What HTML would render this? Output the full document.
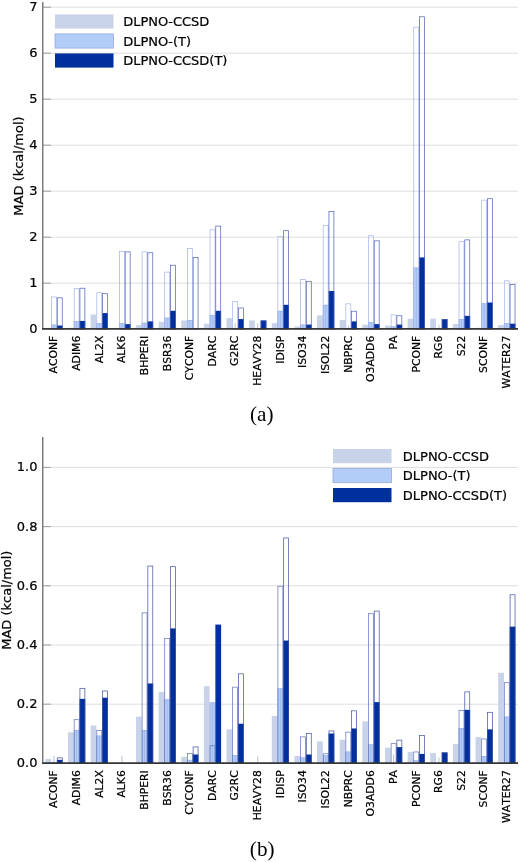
<!DOCTYPE html>
<html lang="en">
<head>
<meta charset="utf-8">
<title>DLPNO MAD charts</title>
<style>
html,body{margin:0;padding:0;background:#fff;}
body{width:520px;height:862px;overflow:hidden;font-family:"DejaVu Sans","Liberation Sans",sans-serif;}
svg{display:block;}
svg text{stroke:#000;stroke-width:0.22px;font-kerning:none;}
svg text.cap{stroke:none;}
</style>
</head>
<body>
<svg width="520" height="862" viewBox="0 0 520 862" font-family="'DejaVu Sans', 'Liberation Sans', sans-serif" fill="#000" stroke="none">
<rect width="520" height="862" fill="#fff"/>
<g id="chart-a">
<line x1="43" y1="283.2" x2="518" y2="283.2" stroke="#dedede" stroke-width="1"/>
<line x1="43" y1="283.2" x2="51" y2="283.2" stroke="#a0a0a0" stroke-width="1"/>
<line x1="43" y1="237.2" x2="518" y2="237.2" stroke="#dedede" stroke-width="1"/>
<line x1="43" y1="237.2" x2="51" y2="237.2" stroke="#a0a0a0" stroke-width="1"/>
<line x1="43" y1="191.2" x2="518" y2="191.2" stroke="#dedede" stroke-width="1"/>
<line x1="43" y1="191.2" x2="51" y2="191.2" stroke="#a0a0a0" stroke-width="1"/>
<line x1="43" y1="145.2" x2="518" y2="145.2" stroke="#dedede" stroke-width="1"/>
<line x1="43" y1="145.2" x2="51" y2="145.2" stroke="#a0a0a0" stroke-width="1"/>
<line x1="43" y1="99.2" x2="518" y2="99.2" stroke="#dedede" stroke-width="1"/>
<line x1="43" y1="99.2" x2="51" y2="99.2" stroke="#a0a0a0" stroke-width="1"/>
<line x1="43" y1="53.2" x2="518" y2="53.2" stroke="#dedede" stroke-width="1"/>
<line x1="43" y1="53.2" x2="51" y2="53.2" stroke="#a0a0a0" stroke-width="1"/>
<line x1="43" y1="7.2" x2="518" y2="7.2" stroke="#dedede" stroke-width="1"/>
<line x1="43" y1="7.2" x2="51" y2="7.2" stroke="#a0a0a0" stroke-width="1"/>
<rect x="55" y="14.4" width="58.5" height="14.2" fill="#c8d3e9"/>
<text x="123.2" y="26.2" font-size="13">DLPNO-CCSD</text>
<rect x="55" y="33.9" width="58.5" height="14.2" fill="#b3cdf9" stroke="#8ea2d4" stroke-width="0.7"/>
<text x="123.2" y="45.7" font-size="13">DLPNO-(T)</text>
<rect x="55" y="53.4" width="58.5" height="14.2" fill="#00309b"/>
<text x="123.2" y="65.2" font-size="13">DLPNO-CCSD(T)</text>
<rect x="45.38" y="327.82" width="5.75" height="1.38" fill="#c8d3e9"/>
<rect x="51.42" y="324.9" width="5.15" height="4.6" fill="#b3cdf9" stroke="#8aa6e3" stroke-width="0.6"/>
<rect x="53.6" y="324.6" width="0.8" height="4.6" fill="#9fb6e6"/>
<rect x="56.88" y="325.52" width="5.75" height="3.68" fill="#00309b"/>
<rect x="51.52" y="296.99" width="4.95" height="32.21" fill="none" stroke="#a3b2e8" stroke-width="0.7"/>
<rect x="57.27" y="297.81" width="4.95" height="31.39" fill="none" stroke="#4d5eb4" stroke-width="0.7"/>
<rect x="68.02" y="327.82" width="5.75" height="1.38" fill="#c8d3e9"/>
<rect x="74.06" y="321.68" width="5.15" height="7.82" fill="#b3cdf9" stroke="#8aa6e3" stroke-width="0.6"/>
<rect x="76.24" y="321.38" width="0.8" height="7.82" fill="#9fb6e6"/>
<rect x="79.52" y="320.92" width="5.75" height="8.28" fill="#00309b"/>
<rect x="74.17" y="288.66" width="4.95" height="40.54" fill="none" stroke="#a3b2e8" stroke-width="0.7"/>
<rect x="79.92" y="288.2" width="4.95" height="41" fill="none" stroke="#4d5eb4" stroke-width="0.7"/>
<rect x="90.66" y="314.48" width="5.75" height="14.72" fill="#c8d3e9"/>
<rect x="96.7" y="323.52" width="5.15" height="5.98" fill="#b3cdf9" stroke="#8aa6e3" stroke-width="0.6"/>
<rect x="98.88" y="323.22" width="0.8" height="5.98" fill="#9fb6e6"/>
<rect x="102.16" y="313.1" width="5.75" height="16.1" fill="#00309b"/>
<rect x="96.81" y="292.8" width="4.95" height="36.4" fill="none" stroke="#a3b2e8" stroke-width="0.7"/>
<rect x="102.56" y="293.72" width="4.95" height="35.48" fill="none" stroke="#4d5eb4" stroke-width="0.7"/>
<rect x="113.3" y="328.74" width="5.75" height="0.46" fill="#c8d3e9"/>
<rect x="119.34" y="323.52" width="5.15" height="5.98" fill="#b3cdf9" stroke="#8aa6e3" stroke-width="0.6"/>
<rect x="121.52" y="323.22" width="0.8" height="5.98" fill="#9fb6e6"/>
<rect x="124.8" y="324.14" width="5.75" height="5.06" fill="#00309b"/>
<rect x="119.45" y="251.4" width="4.95" height="77.8" fill="none" stroke="#a3b2e8" stroke-width="0.7"/>
<rect x="125.2" y="251.86" width="4.95" height="77.34" fill="none" stroke="#4d5eb4" stroke-width="0.7"/>
<rect x="135.94" y="325.06" width="5.75" height="4.14" fill="#c8d3e9"/>
<rect x="141.99" y="323.06" width="5.15" height="6.44" fill="#b3cdf9" stroke="#8aa6e3" stroke-width="0.6"/>
<rect x="144.16" y="322.76" width="0.8" height="6.44" fill="#9fb6e6"/>
<rect x="147.44" y="321.38" width="5.75" height="7.82" fill="#00309b"/>
<rect x="142.09" y="251.86" width="4.95" height="77.34" fill="none" stroke="#a3b2e8" stroke-width="0.7"/>
<rect x="147.84" y="252.78" width="4.95" height="76.42" fill="none" stroke="#4d5eb4" stroke-width="0.7"/>
<rect x="158.57" y="321.84" width="5.75" height="7.36" fill="#c8d3e9"/>
<rect x="164.62" y="318" width="5.15" height="11.5" fill="#b3cdf9" stroke="#8aa6e3" stroke-width="0.6"/>
<rect x="166.8" y="317.7" width="0.8" height="11.5" fill="#9fb6e6"/>
<rect x="170.07" y="310.8" width="5.75" height="18.4" fill="#00309b"/>
<rect x="164.72" y="272.1" width="4.95" height="57.1" fill="none" stroke="#a3b2e8" stroke-width="0.7"/>
<rect x="170.47" y="265.2" width="4.95" height="64" fill="none" stroke="#4d5eb4" stroke-width="0.7"/>
<rect x="181.22" y="320.46" width="5.75" height="8.74" fill="#c8d3e9"/>
<rect x="187.27" y="320.3" width="5.15" height="9.2" fill="#b3cdf9" stroke="#8aa6e3" stroke-width="0.6"/>
<rect x="189.44" y="320" width="0.8" height="9.2" fill="#9fb6e6"/>
<rect x="187.37" y="248.64" width="4.95" height="80.56" fill="none" stroke="#a3b2e8" stroke-width="0.7"/>
<rect x="193.12" y="257.38" width="4.95" height="71.82" fill="none" stroke="#4d5eb4" stroke-width="0.7"/>
<rect x="203.86" y="323.68" width="5.75" height="5.52" fill="#c8d3e9"/>
<rect x="209.91" y="315.24" width="5.15" height="14.26" fill="#b3cdf9" stroke="#8aa6e3" stroke-width="0.6"/>
<rect x="212.08" y="314.94" width="0.8" height="14.26" fill="#9fb6e6"/>
<rect x="215.36" y="310.8" width="5.75" height="18.4" fill="#00309b"/>
<rect x="210.01" y="229.78" width="4.95" height="99.42" fill="none" stroke="#a3b2e8" stroke-width="0.7"/>
<rect x="215.76" y="226.1" width="4.95" height="103.1" fill="none" stroke="#4d5eb4" stroke-width="0.7"/>
<rect x="226.5" y="318.16" width="5.75" height="11.04" fill="#c8d3e9"/>
<rect x="234.62" y="323.22" width="1" height="5.98" fill="#b9c0d2"/>
<rect x="238" y="319.08" width="5.75" height="10.12" fill="#00309b"/>
<rect x="232.65" y="301.54" width="4.95" height="27.66" fill="none" stroke="#a3b2e8" stroke-width="0.7"/>
<rect x="238.4" y="307.98" width="4.95" height="21.22" fill="none" stroke="#4d5eb4" stroke-width="0.7"/>
<rect x="249.13" y="320.46" width="5.75" height="8.74" fill="#c8d3e9"/>
<rect x="257.26" y="323.22" width="1" height="5.98" fill="#b9c0d2"/>
<rect x="260.63" y="320.46" width="5.75" height="8.74" fill="#00309b"/>
<rect x="261.03" y="320.86" width="4.95" height="8.34" fill="none" stroke="#4d5eb4" stroke-width="0.7"/>
<rect x="271.77" y="323.22" width="5.75" height="5.98" fill="#c8d3e9"/>
<rect x="277.82" y="311.1" width="5.15" height="18.4" fill="#b3cdf9" stroke="#8aa6e3" stroke-width="0.6"/>
<rect x="280" y="310.8" width="0.8" height="18.4" fill="#9fb6e6"/>
<rect x="283.27" y="304.82" width="5.75" height="24.38" fill="#00309b"/>
<rect x="277.92" y="236.68" width="4.95" height="92.52" fill="none" stroke="#a3b2e8" stroke-width="0.7"/>
<rect x="283.67" y="230.7" width="4.95" height="98.5" fill="none" stroke="#4d5eb4" stroke-width="0.7"/>
<rect x="294.42" y="326.44" width="5.75" height="2.76" fill="#c8d3e9"/>
<rect x="300.47" y="324.9" width="5.15" height="4.6" fill="#b3cdf9" stroke="#8aa6e3" stroke-width="0.6"/>
<rect x="302.64" y="324.6" width="0.8" height="4.6" fill="#9fb6e6"/>
<rect x="305.92" y="324.6" width="5.75" height="4.6" fill="#00309b"/>
<rect x="300.56" y="279.46" width="4.95" height="49.74" fill="none" stroke="#a3b2e8" stroke-width="0.7"/>
<rect x="306.31" y="281.3" width="4.95" height="47.9" fill="none" stroke="#4d5eb4" stroke-width="0.7"/>
<rect x="317.06" y="315.4" width="5.75" height="13.8" fill="#c8d3e9"/>
<rect x="323.11" y="305.12" width="5.15" height="24.38" fill="#b3cdf9" stroke="#8aa6e3" stroke-width="0.6"/>
<rect x="325.28" y="304.82" width="0.8" height="24.38" fill="#9fb6e6"/>
<rect x="328.56" y="291.02" width="5.75" height="38.18" fill="#00309b"/>
<rect x="323.2" y="225.64" width="4.95" height="103.56" fill="none" stroke="#a3b2e8" stroke-width="0.7"/>
<rect x="328.95" y="211.38" width="4.95" height="117.82" fill="none" stroke="#4d5eb4" stroke-width="0.7"/>
<rect x="339.69" y="320" width="5.75" height="9.2" fill="#c8d3e9"/>
<rect x="347.82" y="325.52" width="1" height="3.68" fill="#b9c0d2"/>
<rect x="351.19" y="321.38" width="5.75" height="7.82" fill="#00309b"/>
<rect x="345.84" y="303.84" width="4.95" height="25.36" fill="none" stroke="#a3b2e8" stroke-width="0.7"/>
<rect x="351.59" y="311.2" width="4.95" height="18" fill="none" stroke="#4d5eb4" stroke-width="0.7"/>
<rect x="362.34" y="324.6" width="5.75" height="4.6" fill="#c8d3e9"/>
<rect x="368.39" y="322.6" width="5.15" height="6.9" fill="#b3cdf9" stroke="#8aa6e3" stroke-width="0.6"/>
<rect x="370.56" y="322.3" width="0.8" height="6.9" fill="#9fb6e6"/>
<rect x="373.84" y="324.14" width="5.75" height="5.06" fill="#00309b"/>
<rect x="368.49" y="235.76" width="4.95" height="93.44" fill="none" stroke="#a3b2e8" stroke-width="0.7"/>
<rect x="374.24" y="240.82" width="4.95" height="88.38" fill="none" stroke="#4d5eb4" stroke-width="0.7"/>
<rect x="384.98" y="325.52" width="5.75" height="3.68" fill="#c8d3e9"/>
<rect x="391.03" y="326.74" width="5.15" height="2.76" fill="#b3cdf9" stroke="#8aa6e3" stroke-width="0.6"/>
<rect x="393.2" y="326.44" width="0.8" height="2.76" fill="#9fb6e6"/>
<rect x="396.48" y="324.6" width="5.75" height="4.6" fill="#00309b"/>
<rect x="391.12" y="314.88" width="4.95" height="14.32" fill="none" stroke="#a3b2e8" stroke-width="0.7"/>
<rect x="396.88" y="315.8" width="4.95" height="13.4" fill="none" stroke="#4d5eb4" stroke-width="0.7"/>
<rect x="407.62" y="318.62" width="5.75" height="10.58" fill="#c8d3e9"/>
<rect x="413.67" y="267.86" width="5.15" height="61.64" fill="#b3cdf9" stroke="#8aa6e3" stroke-width="0.6"/>
<rect x="415.84" y="267.56" width="0.8" height="61.64" fill="#9fb6e6"/>
<rect x="419.12" y="257.44" width="5.75" height="71.76" fill="#00309b"/>
<rect x="413.76" y="27.15" width="4.95" height="302.05" fill="none" stroke="#a3b2e8" stroke-width="0.7"/>
<rect x="419.51" y="16.8" width="4.95" height="312.4" fill="none" stroke="#4d5eb4" stroke-width="0.7"/>
<rect x="430.25" y="318.62" width="5.75" height="10.58" fill="#c8d3e9"/>
<rect x="438.38" y="324.6" width="1" height="4.6" fill="#b9c0d2"/>
<rect x="441.75" y="319.08" width="5.75" height="10.12" fill="#00309b"/>
<rect x="442.15" y="319.48" width="4.95" height="9.72" fill="none" stroke="#4d5eb4" stroke-width="0.7"/>
<rect x="452.89" y="324.14" width="5.75" height="5.06" fill="#c8d3e9"/>
<rect x="458.94" y="319.38" width="5.15" height="10.12" fill="#b3cdf9" stroke="#8aa6e3" stroke-width="0.6"/>
<rect x="461.12" y="319.08" width="0.8" height="10.12" fill="#9fb6e6"/>
<rect x="464.39" y="315.86" width="5.75" height="13.34" fill="#00309b"/>
<rect x="459.04" y="241.74" width="4.95" height="87.46" fill="none" stroke="#a3b2e8" stroke-width="0.7"/>
<rect x="464.79" y="239.9" width="4.95" height="89.3" fill="none" stroke="#4d5eb4" stroke-width="0.7"/>
<rect x="475.54" y="327.82" width="5.75" height="1.38" fill="#c8d3e9"/>
<rect x="481.59" y="303.74" width="5.15" height="25.76" fill="#b3cdf9" stroke="#8aa6e3" stroke-width="0.6"/>
<rect x="483.76" y="303.44" width="0.8" height="25.76" fill="#9fb6e6"/>
<rect x="487.04" y="302.52" width="5.75" height="26.68" fill="#00309b"/>
<rect x="481.69" y="200.11" width="4.95" height="129.09" fill="none" stroke="#a3b2e8" stroke-width="0.7"/>
<rect x="487.44" y="198.73" width="4.95" height="130.47" fill="none" stroke="#4d5eb4" stroke-width="0.7"/>
<rect x="498.18" y="325.06" width="5.75" height="4.14" fill="#c8d3e9"/>
<rect x="504.23" y="323.52" width="5.15" height="5.98" fill="#b3cdf9" stroke="#8aa6e3" stroke-width="0.6"/>
<rect x="506.4" y="323.22" width="0.8" height="5.98" fill="#9fb6e6"/>
<rect x="509.68" y="323.68" width="5.75" height="5.52" fill="#00309b"/>
<rect x="504.32" y="280.84" width="4.95" height="48.36" fill="none" stroke="#a3b2e8" stroke-width="0.7"/>
<rect x="510.07" y="284.52" width="4.95" height="44.68" fill="none" stroke="#4d5eb4" stroke-width="0.7"/>
<line x1="42.75" y1="2" x2="42.75" y2="329.7" stroke="#747474" stroke-width="1.4"/>
<line x1="42.1" y1="328.9" x2="518" y2="328.9" stroke="#363636" stroke-width="1.7"/>
<text x="37.5" y="333.1" text-anchor="end" font-size="13">0</text>
<text x="37.5" y="287.1" text-anchor="end" font-size="13">1</text>
<text x="37.5" y="241.1" text-anchor="end" font-size="13">2</text>
<text x="37.5" y="195.1" text-anchor="end" font-size="13">3</text>
<text x="37.5" y="149.1" text-anchor="end" font-size="13">4</text>
<text x="37.5" y="103.1" text-anchor="end" font-size="13">5</text>
<text x="37.5" y="57.1" text-anchor="end" font-size="13">6</text>
<text x="37.5" y="11.1" text-anchor="end" font-size="13">7</text>
<text transform="translate(22.9,166) rotate(-90)" text-anchor="middle" font-size="13">MAD (kcal/mol)</text>
<text transform="translate(57.3,335.7) rotate(-90)" text-anchor="end" font-size="10.8">ACONF</text>
<text transform="translate(79.94,335.7) rotate(-90)" text-anchor="end" font-size="10.8">ADIM6</text>
<text transform="translate(102.58,335.7) rotate(-90)" text-anchor="end" font-size="10.8">AL2X</text>
<text transform="translate(125.22,335.7) rotate(-90)" text-anchor="end" font-size="10.8">ALK6</text>
<text transform="translate(147.86,335.7) rotate(-90)" text-anchor="end" font-size="10.8">BHPERI</text>
<text transform="translate(170.5,335.7) rotate(-90)" text-anchor="end" font-size="10.8">BSR36</text>
<text transform="translate(193.14,335.7) rotate(-90)" text-anchor="end" font-size="10.8">CYCONF</text>
<text transform="translate(215.78,335.7) rotate(-90)" text-anchor="end" font-size="10.8">DARC</text>
<text transform="translate(238.42,335.7) rotate(-90)" text-anchor="end" font-size="10.8">G2RC</text>
<text transform="translate(261.06,335.7) rotate(-90)" text-anchor="end" font-size="10.8">HEAVY28</text>
<text transform="translate(283.7,335.7) rotate(-90)" text-anchor="end" font-size="10.8">IDISP</text>
<text transform="translate(306.34,335.7) rotate(-90)" text-anchor="end" font-size="10.8">ISO34</text>
<text transform="translate(328.98,335.7) rotate(-90)" text-anchor="end" font-size="10.8">ISOL22</text>
<text transform="translate(351.62,335.7) rotate(-90)" text-anchor="end" font-size="10.8">NBPRC</text>
<text transform="translate(374.26,335.7) rotate(-90)" text-anchor="end" font-size="10.8">O3ADD6</text>
<text transform="translate(396.9,335.7) rotate(-90)" text-anchor="end" font-size="10.8">PA</text>
<text transform="translate(419.54,335.7) rotate(-90)" text-anchor="end" font-size="10.8">PCONF</text>
<text transform="translate(442.18,335.7) rotate(-90)" text-anchor="end" font-size="10.8">RG6</text>
<text transform="translate(464.82,335.7) rotate(-90)" text-anchor="end" font-size="10.8">S22</text>
<text transform="translate(487.46,335.7) rotate(-90)" text-anchor="end" font-size="10.8">SCONF</text>
<text transform="translate(510.1,335.7) rotate(-90)" text-anchor="end" font-size="10.8">WATER27</text>
<text class="cap" x="261.8" y="421" text-anchor="middle" font-family="'Liberation Serif', serif" font-size="21.2">(a)</text>
</g>
<g id="chart-b">
<line x1="43" y1="704.2" x2="518" y2="704.2" stroke="#dedede" stroke-width="1"/>
<line x1="43" y1="704.2" x2="51" y2="704.2" stroke="#a0a0a0" stroke-width="1"/>
<line x1="43" y1="645" x2="518" y2="645" stroke="#dedede" stroke-width="1"/>
<line x1="43" y1="645" x2="51" y2="645" stroke="#a0a0a0" stroke-width="1"/>
<line x1="43" y1="585.8" x2="518" y2="585.8" stroke="#dedede" stroke-width="1"/>
<line x1="43" y1="585.8" x2="51" y2="585.8" stroke="#a0a0a0" stroke-width="1"/>
<line x1="43" y1="526.6" x2="518" y2="526.6" stroke="#dedede" stroke-width="1"/>
<line x1="43" y1="526.6" x2="51" y2="526.6" stroke="#a0a0a0" stroke-width="1"/>
<line x1="43" y1="467.4" x2="518" y2="467.4" stroke="#dedede" stroke-width="1"/>
<line x1="43" y1="467.4" x2="51" y2="467.4" stroke="#a0a0a0" stroke-width="1"/>
<rect x="333" y="449" width="58.5" height="14.2" fill="#c8d3e9"/>
<text x="402.8" y="460.8" font-size="13">DLPNO-CCSD</text>
<rect x="333" y="468.5" width="58.5" height="14.2" fill="#b3cdf9" stroke="#8ea2d4" stroke-width="0.7"/>
<text x="402.8" y="480.3" font-size="13">DLPNO-(T)</text>
<rect x="333" y="488" width="58.5" height="14.2" fill="#00309b"/>
<text x="402.8" y="499.8" font-size="13">DLPNO-CCSD(T)</text>
<rect x="45.38" y="758.96" width="5.75" height="4.44" fill="#c8d3e9"/>
<rect x="51.42" y="762.22" width="5.15" height="1.48" fill="#b3cdf9" stroke="#8aa6e3" stroke-width="0.6"/>
<rect x="53.6" y="761.92" width="0.8" height="1.48" fill="#9fb6e6"/>
<rect x="56.88" y="759.85" width="5.75" height="3.55" fill="#00309b"/>
<rect x="53.5" y="756" width="1" height="7.4" fill="#b9c0d2"/>
<rect x="57.27" y="757.88" width="4.95" height="5.52" fill="none" stroke="#3f4f9f" stroke-width="0.7"/>
<rect x="68.02" y="732.32" width="5.75" height="31.08" fill="#c8d3e9"/>
<rect x="74.06" y="730.25" width="5.15" height="33.45" fill="#b3cdf9" stroke="#8aa6e3" stroke-width="0.6"/>
<rect x="76.24" y="729.95" width="0.8" height="33.45" fill="#9fb6e6"/>
<rect x="79.52" y="698.87" width="5.75" height="64.53" fill="#00309b"/>
<rect x="74.17" y="719.7" width="4.95" height="43.7" fill="none" stroke="#5e70bc" stroke-width="0.7"/>
<rect x="79.92" y="688.32" width="4.95" height="75.08" fill="none" stroke="#3f4f9f" stroke-width="0.7"/>
<rect x="90.66" y="725.51" width="5.75" height="37.89" fill="#c8d3e9"/>
<rect x="96.7" y="735.88" width="5.15" height="27.82" fill="#b3cdf9" stroke="#8aa6e3" stroke-width="0.6"/>
<rect x="98.88" y="735.58" width="0.8" height="27.82" fill="#9fb6e6"/>
<rect x="102.16" y="697.69" width="5.75" height="65.71" fill="#00309b"/>
<rect x="96.81" y="730.35" width="4.95" height="33.05" fill="none" stroke="#5e70bc" stroke-width="0.7"/>
<rect x="102.56" y="690.98" width="4.95" height="72.42" fill="none" stroke="#3f4f9f" stroke-width="0.7"/>
<rect x="121.42" y="756" width="1" height="7.4" fill="#b9c0d2"/>
<rect x="135.94" y="716.63" width="5.75" height="46.77" fill="#c8d3e9"/>
<rect x="141.99" y="730.25" width="5.15" height="33.45" fill="#b3cdf9" stroke="#8aa6e3" stroke-width="0.6"/>
<rect x="144.16" y="729.95" width="0.8" height="33.45" fill="#9fb6e6"/>
<rect x="147.44" y="683.48" width="5.75" height="79.92" fill="#00309b"/>
<rect x="142.09" y="612.84" width="4.95" height="150.56" fill="none" stroke="#5e70bc" stroke-width="0.7"/>
<rect x="147.84" y="566.07" width="4.95" height="197.33" fill="none" stroke="#3f4f9f" stroke-width="0.7"/>
<rect x="158.57" y="692.06" width="5.75" height="71.34" fill="#c8d3e9"/>
<rect x="164.62" y="699.76" width="5.15" height="63.94" fill="#b3cdf9" stroke="#8aa6e3" stroke-width="0.6"/>
<rect x="166.8" y="699.46" width="0.8" height="63.94" fill="#9fb6e6"/>
<rect x="170.07" y="628.42" width="5.75" height="134.98" fill="#00309b"/>
<rect x="164.72" y="638.3" width="4.95" height="125.1" fill="none" stroke="#5e70bc" stroke-width="0.7"/>
<rect x="170.47" y="566.66" width="4.95" height="196.74" fill="none" stroke="#3f4f9f" stroke-width="0.7"/>
<rect x="181.22" y="756.89" width="5.75" height="6.51" fill="#c8d3e9"/>
<rect x="187.27" y="760.15" width="5.15" height="3.55" fill="#b3cdf9" stroke="#8aa6e3" stroke-width="0.6"/>
<rect x="189.44" y="759.85" width="0.8" height="3.55" fill="#9fb6e6"/>
<rect x="192.72" y="754.52" width="5.75" height="8.88" fill="#00309b"/>
<rect x="187.37" y="753.44" width="4.95" height="9.96" fill="none" stroke="#5e70bc" stroke-width="0.7"/>
<rect x="193.12" y="746.93" width="4.95" height="16.47" fill="none" stroke="#3f4f9f" stroke-width="0.7"/>
<rect x="203.86" y="686.14" width="5.75" height="77.26" fill="#c8d3e9"/>
<rect x="209.91" y="702.72" width="5.15" height="60.98" fill="#b3cdf9" stroke="#8aa6e3" stroke-width="0.6"/>
<rect x="212.08" y="702.42" width="0.8" height="60.98" fill="#9fb6e6"/>
<rect x="215.36" y="624.58" width="5.75" height="138.82" fill="#00309b"/>
<rect x="210.01" y="745.74" width="4.95" height="17.66" fill="none" stroke="#5e70bc" stroke-width="0.7"/>
<rect x="226.5" y="729.36" width="5.75" height="34.04" fill="#c8d3e9"/>
<rect x="232.55" y="755.41" width="5.15" height="8.29" fill="#b3cdf9" stroke="#8aa6e3" stroke-width="0.6"/>
<rect x="234.72" y="755.11" width="0.8" height="8.29" fill="#9fb6e6"/>
<rect x="238" y="723.74" width="5.75" height="39.66" fill="#00309b"/>
<rect x="232.65" y="687.14" width="4.95" height="76.26" fill="none" stroke="#5e70bc" stroke-width="0.7"/>
<rect x="238.4" y="673.82" width="4.95" height="89.58" fill="none" stroke="#3f4f9f" stroke-width="0.7"/>
<rect x="257.26" y="756" width="1" height="7.4" fill="#b9c0d2"/>
<rect x="271.77" y="716.04" width="5.75" height="47.36" fill="#c8d3e9"/>
<rect x="277.82" y="688.81" width="5.15" height="74.89" fill="#b3cdf9" stroke="#8aa6e3" stroke-width="0.6"/>
<rect x="280" y="688.51" width="0.8" height="74.89" fill="#9fb6e6"/>
<rect x="283.27" y="640.56" width="5.75" height="122.84" fill="#00309b"/>
<rect x="277.92" y="586.2" width="4.95" height="177.2" fill="none" stroke="#5e70bc" stroke-width="0.7"/>
<rect x="283.67" y="537.95" width="4.95" height="225.45" fill="none" stroke="#3f4f9f" stroke-width="0.7"/>
<rect x="294.42" y="756" width="5.75" height="7.4" fill="#c8d3e9"/>
<rect x="300.47" y="757.78" width="5.15" height="5.92" fill="#b3cdf9" stroke="#8aa6e3" stroke-width="0.6"/>
<rect x="302.64" y="757.48" width="0.8" height="5.92" fill="#9fb6e6"/>
<rect x="305.92" y="754.52" width="5.75" height="8.88" fill="#00309b"/>
<rect x="300.56" y="736.86" width="4.95" height="26.54" fill="none" stroke="#5e70bc" stroke-width="0.7"/>
<rect x="306.31" y="733.31" width="4.95" height="30.09" fill="none" stroke="#3f4f9f" stroke-width="0.7"/>
<rect x="317.06" y="741.5" width="5.75" height="21.9" fill="#c8d3e9"/>
<rect x="323.11" y="755.41" width="5.15" height="8.29" fill="#b3cdf9" stroke="#8aa6e3" stroke-width="0.6"/>
<rect x="325.28" y="755.11" width="0.8" height="8.29" fill="#9fb6e6"/>
<rect x="328.56" y="733.5" width="5.75" height="29.9" fill="#00309b"/>
<rect x="323.2" y="753.74" width="4.95" height="9.66" fill="none" stroke="#5e70bc" stroke-width="0.7"/>
<rect x="328.95" y="730.94" width="4.95" height="32.46" fill="none" stroke="#3f4f9f" stroke-width="0.7"/>
<rect x="339.69" y="739.72" width="5.75" height="23.68" fill="#c8d3e9"/>
<rect x="345.75" y="751.86" width="5.15" height="11.84" fill="#b3cdf9" stroke="#8aa6e3" stroke-width="0.6"/>
<rect x="347.92" y="751.56" width="0.8" height="11.84" fill="#9fb6e6"/>
<rect x="351.19" y="728.47" width="5.75" height="34.93" fill="#00309b"/>
<rect x="345.84" y="732.13" width="4.95" height="31.27" fill="none" stroke="#5e70bc" stroke-width="0.7"/>
<rect x="351.59" y="710.82" width="4.95" height="52.58" fill="none" stroke="#3f4f9f" stroke-width="0.7"/>
<rect x="362.34" y="721.37" width="5.75" height="42.03" fill="#c8d3e9"/>
<rect x="368.39" y="744.76" width="5.15" height="18.94" fill="#b3cdf9" stroke="#8aa6e3" stroke-width="0.6"/>
<rect x="370.56" y="744.46" width="0.8" height="18.94" fill="#9fb6e6"/>
<rect x="373.84" y="702.13" width="5.75" height="61.27" fill="#00309b"/>
<rect x="368.49" y="613.73" width="4.95" height="149.67" fill="none" stroke="#5e70bc" stroke-width="0.7"/>
<rect x="374.24" y="611.06" width="4.95" height="152.34" fill="none" stroke="#3f4f9f" stroke-width="0.7"/>
<rect x="384.98" y="747.71" width="5.75" height="15.69" fill="#c8d3e9"/>
<rect x="393.1" y="754.52" width="1" height="8.88" fill="#b9c0d2"/>
<rect x="396.48" y="747.12" width="5.75" height="16.28" fill="#00309b"/>
<rect x="391.12" y="743.67" width="4.95" height="19.73" fill="none" stroke="#5e70bc" stroke-width="0.7"/>
<rect x="396.88" y="740.12" width="4.95" height="23.28" fill="none" stroke="#3f4f9f" stroke-width="0.7"/>
<rect x="407.62" y="751.86" width="5.75" height="11.54" fill="#c8d3e9"/>
<rect x="413.67" y="760.74" width="5.15" height="2.96" fill="#b3cdf9" stroke="#8aa6e3" stroke-width="0.6"/>
<rect x="415.84" y="760.44" width="0.8" height="2.96" fill="#9fb6e6"/>
<rect x="419.12" y="753.93" width="5.75" height="9.47" fill="#00309b"/>
<rect x="413.76" y="751.96" width="4.95" height="11.44" fill="none" stroke="#5e70bc" stroke-width="0.7"/>
<rect x="419.51" y="735.38" width="4.95" height="28.02" fill="none" stroke="#3f4f9f" stroke-width="0.7"/>
<rect x="430.25" y="753.04" width="5.75" height="10.36" fill="#c8d3e9"/>
<rect x="438.38" y="757.48" width="1" height="5.92" fill="#b9c0d2"/>
<rect x="441.75" y="752.45" width="5.75" height="10.95" fill="#00309b"/>
<rect x="442.15" y="752.85" width="4.95" height="10.55" fill="none" stroke="#3f4f9f" stroke-width="0.7"/>
<rect x="452.89" y="743.86" width="5.75" height="19.54" fill="#c8d3e9"/>
<rect x="458.94" y="728.48" width="5.15" height="35.22" fill="#b3cdf9" stroke="#8aa6e3" stroke-width="0.6"/>
<rect x="461.12" y="728.18" width="0.8" height="35.22" fill="#9fb6e6"/>
<rect x="464.39" y="709.82" width="5.75" height="53.58" fill="#00309b"/>
<rect x="459.04" y="710.52" width="4.95" height="52.88" fill="none" stroke="#5e70bc" stroke-width="0.7"/>
<rect x="464.79" y="691.87" width="4.95" height="71.53" fill="none" stroke="#3f4f9f" stroke-width="0.7"/>
<rect x="475.54" y="737.06" width="5.75" height="26.34" fill="#c8d3e9"/>
<rect x="481.59" y="756.3" width="5.15" height="7.4" fill="#b3cdf9" stroke="#8aa6e3" stroke-width="0.6"/>
<rect x="483.76" y="756" width="0.8" height="7.4" fill="#9fb6e6"/>
<rect x="487.04" y="729.36" width="5.75" height="34.04" fill="#00309b"/>
<rect x="481.69" y="738.94" width="4.95" height="24.46" fill="none" stroke="#5e70bc" stroke-width="0.7"/>
<rect x="487.44" y="712.3" width="4.95" height="51.1" fill="none" stroke="#3f4f9f" stroke-width="0.7"/>
<rect x="498.18" y="672.82" width="5.75" height="90.58" fill="#c8d3e9"/>
<rect x="504.23" y="716.93" width="5.15" height="46.77" fill="#b3cdf9" stroke="#8aa6e3" stroke-width="0.6"/>
<rect x="506.4" y="716.63" width="0.8" height="46.77" fill="#9fb6e6"/>
<rect x="509.68" y="626.65" width="5.75" height="136.75" fill="#00309b"/>
<rect x="504.32" y="682.7" width="4.95" height="80.7" fill="none" stroke="#5e70bc" stroke-width="0.7"/>
<rect x="510.07" y="594.78" width="4.95" height="168.62" fill="none" stroke="#3f4f9f" stroke-width="0.7"/>
<line x1="42.75" y1="437" x2="42.75" y2="763.9" stroke="#747474" stroke-width="1.4"/>
<line x1="42.1" y1="763.1" x2="518" y2="763.1" stroke="#363636" stroke-width="1.7"/>
<text x="37.5" y="767.3" text-anchor="end" font-size="13">0.0</text>
<text x="37.5" y="708.1" text-anchor="end" font-size="13">0.2</text>
<text x="37.5" y="648.9" text-anchor="end" font-size="13">0.4</text>
<text x="37.5" y="589.7" text-anchor="end" font-size="13">0.6</text>
<text x="37.5" y="530.5" text-anchor="end" font-size="13">0.8</text>
<text x="37.5" y="471.3" text-anchor="end" font-size="13">1.0</text>
<text transform="translate(11.1,600.2) rotate(-90)" text-anchor="middle" font-size="13">MAD (kcal/mol)</text>
<text transform="translate(57.3,770.2) rotate(-90)" text-anchor="end" font-size="10.8">ACONF</text>
<text transform="translate(79.94,770.2) rotate(-90)" text-anchor="end" font-size="10.8">ADIM6</text>
<text transform="translate(102.58,770.2) rotate(-90)" text-anchor="end" font-size="10.8">AL2X</text>
<text transform="translate(125.22,770.2) rotate(-90)" text-anchor="end" font-size="10.8">ALK6</text>
<text transform="translate(147.86,770.2) rotate(-90)" text-anchor="end" font-size="10.8">BHPERI</text>
<text transform="translate(170.5,770.2) rotate(-90)" text-anchor="end" font-size="10.8">BSR36</text>
<text transform="translate(193.14,770.2) rotate(-90)" text-anchor="end" font-size="10.8">CYCONF</text>
<text transform="translate(215.78,770.2) rotate(-90)" text-anchor="end" font-size="10.8">DARC</text>
<text transform="translate(238.42,770.2) rotate(-90)" text-anchor="end" font-size="10.8">G2RC</text>
<text transform="translate(261.06,770.2) rotate(-90)" text-anchor="end" font-size="10.8">HEAVY28</text>
<text transform="translate(283.7,770.2) rotate(-90)" text-anchor="end" font-size="10.8">IDISP</text>
<text transform="translate(306.34,770.2) rotate(-90)" text-anchor="end" font-size="10.8">ISO34</text>
<text transform="translate(328.98,770.2) rotate(-90)" text-anchor="end" font-size="10.8">ISOL22</text>
<text transform="translate(351.62,770.2) rotate(-90)" text-anchor="end" font-size="10.8">NBPRC</text>
<text transform="translate(374.26,770.2) rotate(-90)" text-anchor="end" font-size="10.8">O3ADD6</text>
<text transform="translate(396.9,770.2) rotate(-90)" text-anchor="end" font-size="10.8">PA</text>
<text transform="translate(419.54,770.2) rotate(-90)" text-anchor="end" font-size="10.8">PCONF</text>
<text transform="translate(442.18,770.2) rotate(-90)" text-anchor="end" font-size="10.8">RG6</text>
<text transform="translate(464.82,770.2) rotate(-90)" text-anchor="end" font-size="10.8">S22</text>
<text transform="translate(487.46,770.2) rotate(-90)" text-anchor="end" font-size="10.8">SCONF</text>
<text transform="translate(510.1,770.2) rotate(-90)" text-anchor="end" font-size="10.8">WATER27</text>
<text class="cap" x="262.2" y="855.7" text-anchor="middle" font-family="'Liberation Serif', serif" font-size="21.2">(b)</text>
</g>
</svg>
</body>
</html>
